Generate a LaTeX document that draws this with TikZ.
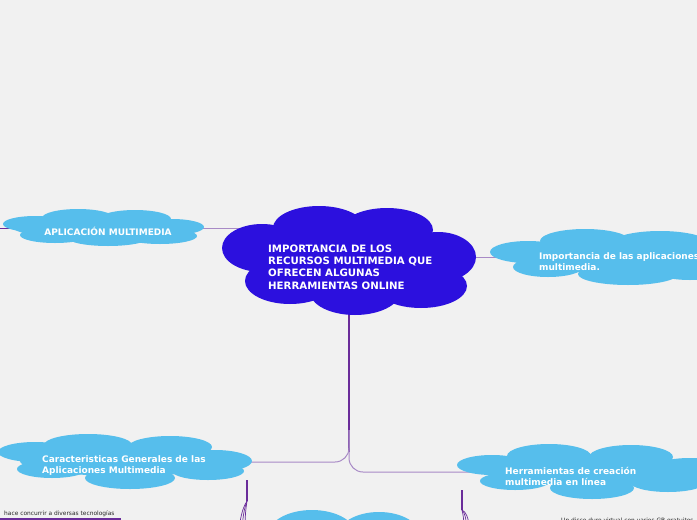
\documentclass[tikz,border=0pt]{standalone}
\usepackage{fontspec}
\setmainfont{DejaVu Sans}
\usepackage{tikz}
\usetikzlibrary{calc}
\definecolor{fondo}{HTML}{F1F1F1}
\definecolor{azulOscuro}{HTML}{2C10DE}
\definecolor{celeste}{HTML}{56BEEC}
\definecolor{morado}{HTML}{6A2C9A}
\definecolor{lila}{HTML}{A88AC6}

\begin{document}
\begin{tikzpicture}[x=1pt,y=-1pt,
            tronco/.style={draw=morado,line width=2.2pt},
            rama/.style={draw=lila,line width=1pt},
            hilo/.style={draw=morado,line width=0.7pt},
            titulo/.style={font=\bfseries\fontsize{10.2}{12.3}\selectfont,text=white,align=left,anchor=west,inner sep=0pt},
            tema/.style={font=\bfseries\fontsize{9}{11}\selectfont,text=white,align=left,anchor=west,inner sep=0pt},
            hoja/.style={font=\fontsize{5.9}{7}\selectfont,text=black!85,anchor=base west,inner sep=0pt}]
            \fill[fondo] (0,0) rectangle (697,520);
            \useasboundingbox (0,0) rectangle (697,520);
            % coordenadas
            \coordinate (imp) at (349,258);
            \coordinate (apl) at (104,228);
            \coordinate (aplHijo) at (-5,228);
            \coordinate (imAp) at (610,257);
            \coordinate (bif) at (349,430);
            \coordinate (bifFin) at (349,452);
            \coordinate (car) at (125,462);
            \coordinate (her) at (590,472);
            \coordinate (carPie) at (247,480);
            \coordinate (carNudo) at (247,501);
            \coordinate (herPie) at (462,490);
            \coordinate (herNudo) at (462,510);
            % conectores
            \draw[rama] (apl) -- (imp |- apl);
            \draw[hilo,line width=1pt] (apl) -- (aplHijo);
            \draw[rama] (imp |- imAp) -- (imAp);
            \draw[tronco] (imp) -- (bifFin);
            \draw[rama,rounded corners=14pt] (bif) |- (car);
            \draw[rama,rounded corners=14pt] (bif) |- (her);
            \draw[tronco,line width=1.5pt] (carPie) -- (carNudo);
            \draw[hilo] (carNudo) .. controls (244,506) and (241,512) .. (239,530);
            \draw[hilo] (carNudo) .. controls (245,507) and (243,513) .. (242,530);
            \draw[hilo] (carNudo) .. controls (246,508) and (245,514) .. (245,530);
            \draw[tronco,line width=1.5pt] (herPie) -- (herNudo);
            \draw[hilo] (herNudo) .. controls (466,512) and (468,516) .. (470,530);
            \draw[hilo] (herNudo) .. controls (465,513) and (466,518) .. (467,530);
            \draw[hilo] (herNudo) .. controls (463,514) and (464,519) .. (464,530);
            % nubes
            \foreach \x/\y/\a/\b in {319/228/46/22, 387/230/46/22, 262/248/40/24, 438/257/38/25,
                                     290/281/45/23, 355/292/45/23, 421/286/46/22, 350/258/100/35}
                \fill[azulOscuro] (\x,\y) ellipse [x radius=\a, y radius=\b];
            \foreach \x/\y/\a/\b in {35/224/32/8, 78/218/36/9, 135/219/36/9, 172/227/32/8,
                                     55/235/35/8, 108/238/40/8, 160/236/37/8, 104/228/90/11}
                \fill[celeste] (\x,\y) ellipse [x radius=\a, y radius=\b];
            \foreach \x/\y/\a/\b in {528/252/38/11, 585/241/45/12, 660/243/48/12, 548/267/35/10,
                                     628/274/50/11, 690/268/40/12, 610/257/100/16}
                \fill[celeste] (\x,\y) ellipse [x radius=\a, y radius=\b];
            \foreach \x/\y/\a/\b in {35/452/37/10, 88/445/44/11, 170/447/42/11, 215/461/37/11,
                                     52/469/35/9, 130/478/45/11, 208/471/36/9, 125/461/105/15}
                \fill[celeste] (\x,\y) ellipse [x radius=\a, y radius=\b];
            \foreach \x/\y/\a/\b in {492/465/35/10, 549/456/42/12, 631/457/42/12, 690/470/40/12,
                                     515/481/35/9, 592/488/42/11, 668/482/38/10, 590/470/100/16}
                \fill[celeste] (\x,\y) ellipse [x radius=\a, y radius=\b];
            \fill[celeste] (312,535) ellipse [x radius=44, y radius=25];
            \fill[celeste] (379,537) ellipse [x radius=42, y radius=25];
            % textos
            \node[titulo] (impT) at (268,267) {IMPORTANCIA DE LOS\\RECURSOS MULTIMEDIA QUE\\OFRECEN ALGUNAS\\HERRAMIENTAS ONLINE};
            \node[tema,anchor=center] (aplT) at (108,231) {APLICACIÓN MULTIMEDIA};
            \node[tema] (imApT) at (539,262) {Importancia de las aplicaciones\\multimedia.};
            \node[tema] (carT) at (42,466) {Caracteristicas Generales de las\\Aplicaciones Multimedia};
            \node[tema] (herT) at (505,476) {Herramientas de creación\\multimedia en línea};
            \node[hoja] (hace) at (4,515) {hace concurrir a diversas tecnologías};
            \draw[hilo,line width=1.5pt] ($(hace.base west)+(-4,4)$) -- ($(hace.base east)+(6,4)$);
            \node[hoja] (disco) at (561,522) {Un disco duro virtual con varios GB gratuitos};
        \end{tikzpicture}
\end{document}
